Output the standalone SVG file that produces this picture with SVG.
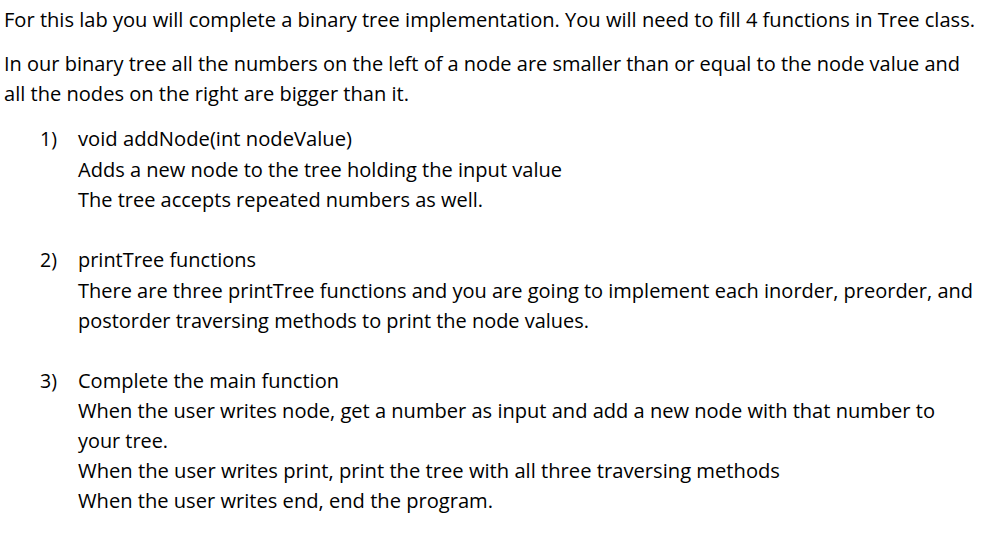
<svg xmlns="http://www.w3.org/2000/svg" width="1002" height="534" viewBox="0 0 1002 534">
<style>text{font-family:"Open Sans","Liberation Sans",sans-serif;font-size:19.5px;fill:#000}</style>
<rect width="1002" height="534" fill="#fff"/>
<text x="4" y="27" textLength="971" lengthAdjust="spacingAndGlyphs">For this lab you will complete a binary tree implementation. You will need to fill 4 functions in Tree class.</text>
<text x="4" y="71" textLength="956" lengthAdjust="spacingAndGlyphs">In our binary tree all the numbers on the left of a node are smaller than or equal to the node value and</text>
<text x="4" y="101" textLength="405" lengthAdjust="spacingAndGlyphs">all the nodes on the right are bigger than it.</text>
<text x="40" y="146">1)</text>
<text x="78" y="146" textLength="274" lengthAdjust="spacingAndGlyphs">void addNode(int nodeValue)</text>
<text x="78" y="177" textLength="484" lengthAdjust="spacingAndGlyphs">Adds a new node to the tree holding the input value</text>
<text x="78" y="207" textLength="405" lengthAdjust="spacingAndGlyphs">The tree accepts repeated numbers as well.</text>
<text x="40" y="267">2)</text>
<text x="78" y="267" textLength="178" lengthAdjust="spacingAndGlyphs">printTree functions</text>
<text x="78" y="298" textLength="895" lengthAdjust="spacingAndGlyphs">There are three printTree functions and you are going to implement each inorder, preorder, and</text>
<text x="78" y="328" textLength="511" lengthAdjust="spacingAndGlyphs">postorder traversing methods to print the node values.</text>
<text x="40" y="388">3)</text>
<text x="78" y="388" textLength="261" lengthAdjust="spacingAndGlyphs">Complete the main function</text>
<text x="78" y="418" textLength="857" lengthAdjust="spacingAndGlyphs">When the user writes node, get a number as input and add a new node with that number to</text>
<text x="78" y="448" textLength="90" lengthAdjust="spacingAndGlyphs">your tree.</text>
<text x="78" y="478" textLength="702" lengthAdjust="spacingAndGlyphs">When the user writes print, print the tree with all three traversing methods</text>
<text x="78" y="508" textLength="415" lengthAdjust="spacingAndGlyphs">When the user writes end, end the program.</text>
</svg>
